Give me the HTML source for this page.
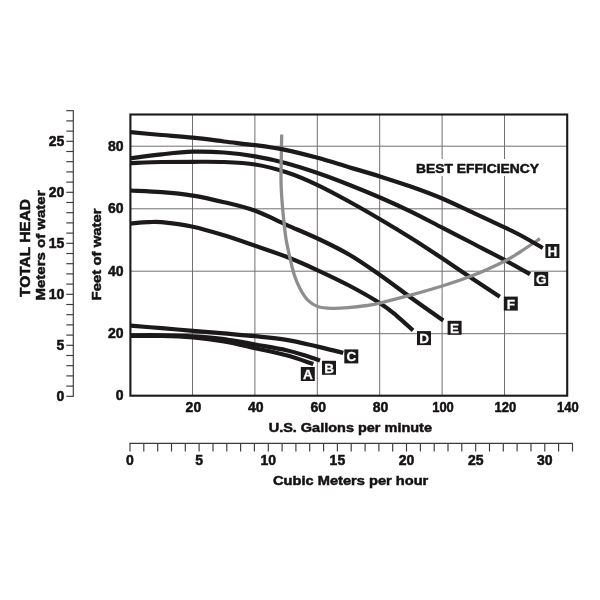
<!DOCTYPE html>
<html lang="en"><head><meta charset="utf-8"><title>Pump performance curves</title>
<style>
html,body{margin:0;padding:0;background:#fff;}
body{width:600px;height:600px;overflow:hidden;}
svg{display:block;transform:translateZ(0);will-change:transform;}
text{font-family:"Liberation Sans",sans-serif;font-weight:bold;fill:#151213;stroke:#151213;stroke-width:0.5px;}
text.w{fill:#fff;stroke:#fff;stroke-width:0.3px;}
</style></head><body>
<svg width="600" height="600" viewBox="0 0 600 600">
<rect width="600" height="600" fill="#fff"/>

<g stroke="#707070" stroke-width="1" fill="none">
<line x1="192.5" y1="114.5" x2="192.5" y2="395.8"/>
<line x1="254.9" y1="114.5" x2="254.9" y2="395.8"/>
<line x1="317.3" y1="114.5" x2="317.3" y2="395.8"/>
<line x1="379.7" y1="114.5" x2="379.7" y2="395.8"/>
<line x1="442.1" y1="114.5" x2="442.1" y2="395.8"/>
<line x1="504.5" y1="114.5" x2="504.5" y2="395.8"/>
<line x1="130.4" y1="333.7" x2="567.2" y2="333.7"/>
<line x1="130.4" y1="271.2" x2="567.2" y2="271.2"/>
<line x1="130.4" y1="208.8" x2="567.2" y2="208.8"/>
<line x1="130.4" y1="146.2" x2="567.2" y2="146.2"/>
</g>
<g fill="none" stroke="#1c191a" stroke-width="4.2" stroke-linecap="butt">
<path d="M130.5 158.3 C135.7 157.6 151.3 155.4 161.7 154.3 C172.1 153.2 182.5 152.0 192.9 151.7 C203.3 151.4 213.6 151.7 224.0 152.5 C234.4 153.3 244.8 154.6 255.2 156.4 C265.6 158.2 276.0 160.4 286.4 163.2 C296.8 166.0 307.2 169.4 317.6 173.0 C328.0 176.6 338.6 180.6 349.0 184.7 C359.4 188.8 369.6 193.0 380.0 197.5 C390.4 202.0 401.0 206.8 411.4 211.8 C421.8 216.8 431.8 222.3 442.2 227.7 C452.6 233.1 463.6 238.6 474.0 244.0 C484.4 249.4 495.2 254.9 504.5 259.9 C513.8 264.9 525.8 271.8 530.0 274.2"/>
<path d="M130.5 163.2 C135.7 163.0 151.3 162.2 161.7 162.0 C172.1 161.8 182.5 161.8 192.9 161.8 C203.3 161.8 213.6 161.6 224.0 162.0 C234.4 162.4 244.8 162.8 255.2 164.5 C265.6 166.2 276.0 168.9 286.4 172.3 C296.8 175.7 307.2 180.2 317.6 185.1 C328.0 190.0 338.6 195.8 349.0 201.5 C359.4 207.2 369.6 213.1 380.0 219.2 C390.4 225.3 401.0 231.7 411.4 238.2 C421.8 244.7 431.8 251.4 442.2 258.3 C452.6 265.2 464.4 273.3 474.0 279.7 C483.6 286.1 495.5 293.9 499.8 296.8"/>
<path d="M130.5 190.5 C135.7 190.8 151.3 191.2 161.7 192.1 C172.1 192.9 182.5 193.9 192.9 195.6 C203.3 197.3 213.6 199.7 224.0 202.2 C234.4 204.7 244.8 207.0 255.2 210.8 C265.6 214.6 276.0 220.2 286.4 224.8 C296.8 229.4 307.2 233.6 317.6 238.5 C328.0 243.4 338.6 248.4 349.0 254.5 C359.4 260.6 369.6 267.8 380.0 275.0 C390.4 282.2 400.8 290.4 411.4 298.0 C421.9 305.6 438.0 316.8 443.3 320.5"/>
<path d="M130.5 223.6 C133.4 223.4 142.8 222.4 148.0 222.2 C153.2 222.0 154.2 221.4 161.7 222.2 C169.2 222.9 182.5 224.5 192.9 226.7 C203.3 228.9 213.6 232.1 224.0 235.3 C234.4 238.5 244.8 242.2 255.2 245.8 C265.6 249.4 276.0 252.7 286.4 256.8 C296.8 260.9 307.3 265.5 317.7 270.3 C328.1 275.1 338.6 280.0 349.0 285.5 C359.4 291.0 372.1 298.1 380.0 303.2 C387.9 308.2 391.2 311.3 396.7 315.8 C402.2 320.3 410.3 328.0 413.0 330.4"/>
<path d="M130.5 325.7 C135.7 326.1 151.3 327.3 161.7 328.2 C172.1 329.1 182.6 329.9 193.0 330.8 C203.4 331.7 213.6 332.5 224.0 333.4 C234.4 334.3 244.8 335.1 255.2 336.2 C265.6 337.3 276.0 338.2 286.4 339.9 C296.8 341.6 308.2 344.5 317.7 346.6 C327.2 348.8 339.0 351.8 343.3 352.8"/>
<path d="M130.5 335.3 C135.7 335.3 151.3 335.1 161.7 335.3 C172.1 335.5 182.6 335.7 193.0 336.3 C203.4 336.9 213.6 337.6 224.0 339.0 C234.4 340.4 244.8 342.6 255.2 344.5 C265.6 346.4 277.9 348.4 286.4 350.3 C294.9 352.2 300.4 354.1 306.0 355.8 C311.6 357.5 317.7 359.8 320.0 360.6"/>
<path d="M130.5 336.0 C135.7 336.0 151.3 335.8 161.7 336.0 C172.1 336.2 182.6 336.6 193.0 337.5 C203.4 338.4 213.6 339.7 224.0 341.5 C234.4 343.3 244.8 345.9 255.2 348.2 C265.6 350.5 276.7 352.7 286.4 355.3 C296.1 357.9 308.8 362.6 313.3 364.0"/>
</g>
<path d="M281.7 134.5 C281.6 138.2 281.4 149.1 281.3 156.7 C281.2 164.3 280.9 172.2 281.0 180.0 C281.1 187.8 281.6 195.5 282.2 203.3 C282.8 211.1 283.8 220.6 284.5 226.7 C285.2 232.8 285.3 234.7 286.2 240.0 C287.1 245.3 288.8 252.9 290.1 258.7 C291.5 264.5 292.6 269.9 294.3 275.0 C296.0 280.1 297.9 284.7 300.2 289.0 C302.5 293.3 305.4 297.8 308.3 300.7 C311.2 303.6 313.8 305.2 317.7 306.5 C321.6 307.8 326.6 308.2 331.7 308.4 C336.8 308.6 342.2 308.2 348.0 307.7 C353.8 307.2 361.2 306.3 366.7 305.5 C372.1 304.7 373.2 304.6 380.7 302.8 C388.1 301.0 401.1 297.7 411.4 294.9 C421.6 292.1 431.8 289.3 442.2 286.0 C452.6 282.7 463.6 279.1 474.0 275.0 C484.4 270.9 496.8 265.0 504.5 261.2 C512.2 257.4 514.1 255.8 520.0 252.0 C525.9 248.2 536.7 240.9 540.0 238.7" fill="none" stroke="#8e8e8e" stroke-width="3.3" stroke-linecap="butt"/>
<path d="M130.5 132.2 C135.7 132.7 151.3 134.1 161.7 135.0 C172.1 135.9 182.5 136.6 192.9 137.7 C203.3 138.8 213.6 140.2 224.0 141.5 C234.4 142.8 244.8 143.8 255.2 145.2 C265.6 146.6 276.0 148.0 286.4 150.1 C296.8 152.2 307.2 155.0 317.6 157.8 C328.0 160.7 338.6 164.1 349.0 167.2 C359.4 170.3 369.6 173.2 380.0 176.5 C390.4 179.8 401.0 183.1 411.4 186.8 C421.8 190.5 431.8 194.1 442.2 198.5 C452.6 202.9 463.6 208.4 474.0 213.2 C484.4 218.0 496.8 223.7 504.5 227.3 C512.2 230.9 513.6 231.6 520.0 235.0 C526.4 238.4 539.0 245.8 542.8 248.0" fill="none" stroke="#1c191a" stroke-width="4.2" stroke-linecap="butt"/>
<rect x="130.4" y="114.5" width="436.8" height="281.2" fill="none" stroke="#1c191a" stroke-width="2.1"/>
<rect x="300.8" y="367.0" width="14" height="14" fill="#1c191a"/>
<text x="307.8" y="378.9" text-anchor="middle" font-size="13.5" class="w">A</text>
<rect x="322.0" y="360.8" width="14" height="14" fill="#1c191a"/>
<text x="329.0" y="372.7" text-anchor="middle" font-size="13.5" class="w">B</text>
<rect x="344.3" y="349.4" width="14" height="14" fill="#1c191a"/>
<text x="351.3" y="361.3" text-anchor="middle" font-size="13.5" class="w">C</text>
<rect x="417.0" y="331.1" width="14" height="14" fill="#1c191a"/>
<text x="424.0" y="343.0" text-anchor="middle" font-size="13.5" class="w">D</text>
<rect x="447.6" y="320.8" width="14" height="14" fill="#1c191a"/>
<text x="454.6" y="332.7" text-anchor="middle" font-size="13.5" class="w">E</text>
<rect x="503.8" y="296.6" width="14" height="14" fill="#1c191a"/>
<text x="510.8" y="308.5" text-anchor="middle" font-size="13.5" class="w">F</text>
<rect x="534.2" y="272.0" width="14" height="14" fill="#1c191a"/>
<text x="541.2" y="283.9" text-anchor="middle" font-size="13.5" class="w">G</text>
<rect x="545.4" y="244.0" width="14" height="14" fill="#1c191a"/>
<text x="552.4" y="255.9" text-anchor="middle" font-size="13.5" class="w">H</text>
<text x="123.5" y="400.0" text-anchor="end" font-size="14">0</text>
<text x="123.5" y="338.3" text-anchor="end" font-size="14">20</text>
<text x="123.5" y="275.8" text-anchor="end" font-size="14">40</text>
<text x="123.5" y="213.4" text-anchor="end" font-size="14">60</text>
<text x="123.5" y="150.8" text-anchor="end" font-size="14">80</text>
<text x="193.4" y="412.3" text-anchor="middle" font-size="14">20</text>
<text x="255.8" y="412.3" text-anchor="middle" font-size="14">40</text>
<text x="318.2" y="412.3" text-anchor="middle" font-size="14">60</text>
<text x="380.6" y="412.3" text-anchor="middle" font-size="14">80</text>
<text x="443.0" y="412.3" text-anchor="middle" font-size="14" textLength="21.6" lengthAdjust="spacingAndGlyphs">100</text>
<text x="505.4" y="412.3" text-anchor="middle" font-size="14" textLength="21.6" lengthAdjust="spacingAndGlyphs">120</text>
<text x="567.8" y="412.3" text-anchor="middle" font-size="14" textLength="21.6" lengthAdjust="spacingAndGlyphs">140</text>
<text x="268.7" y="431.7" font-size="13" textLength="163.3" lengthAdjust="spacingAndGlyphs">U.S. Gallons per minute</text>
<text x="273" y="484.7" font-size="13" textLength="155.3" lengthAdjust="spacingAndGlyphs">Cubic Meters per hour</text>
<rect x="413.5" y="159" width="128" height="17" fill="#fff"/>
<text x="416" y="173" font-size="13" textLength="123" lengthAdjust="spacingAndGlyphs">BEST EFFICIENCY</text>
<g stroke="#3a3a3a" stroke-width="1.15" fill="none">
<line x1="129.5" y1="443.3" x2="573.0" y2="443.3"/>
<line x1="130.0" y1="443.3" x2="130.0" y2="451.5"/>
<line x1="143.8" y1="443.3" x2="143.8" y2="451.5"/>
<line x1="157.7" y1="443.3" x2="157.7" y2="451.5"/>
<line x1="171.5" y1="443.3" x2="171.5" y2="451.5"/>
<line x1="185.3" y1="443.3" x2="185.3" y2="451.5"/>
<line x1="199.1" y1="443.3" x2="199.1" y2="451.5"/>
<line x1="213.0" y1="443.3" x2="213.0" y2="451.5"/>
<line x1="226.8" y1="443.3" x2="226.8" y2="451.5"/>
<line x1="240.6" y1="443.3" x2="240.6" y2="451.5"/>
<line x1="254.4" y1="443.3" x2="254.4" y2="451.5"/>
<line x1="268.3" y1="443.3" x2="268.3" y2="451.5"/>
<line x1="282.1" y1="443.3" x2="282.1" y2="451.5"/>
<line x1="295.9" y1="443.3" x2="295.9" y2="451.5"/>
<line x1="309.7" y1="443.3" x2="309.7" y2="451.5"/>
<line x1="323.6" y1="443.3" x2="323.6" y2="451.5"/>
<line x1="337.4" y1="443.3" x2="337.4" y2="451.5"/>
<line x1="351.2" y1="443.3" x2="351.2" y2="451.5"/>
<line x1="365.1" y1="443.3" x2="365.1" y2="451.5"/>
<line x1="378.9" y1="443.3" x2="378.9" y2="451.5"/>
<line x1="392.7" y1="443.3" x2="392.7" y2="451.5"/>
<line x1="406.5" y1="443.3" x2="406.5" y2="451.5"/>
<line x1="420.4" y1="443.3" x2="420.4" y2="451.5"/>
<line x1="434.2" y1="443.3" x2="434.2" y2="451.5"/>
<line x1="448.0" y1="443.3" x2="448.0" y2="451.5"/>
<line x1="461.8" y1="443.3" x2="461.8" y2="451.5"/>
<line x1="475.7" y1="443.3" x2="475.7" y2="451.5"/>
<line x1="489.5" y1="443.3" x2="489.5" y2="451.5"/>
<line x1="503.3" y1="443.3" x2="503.3" y2="451.5"/>
<line x1="517.1" y1="443.3" x2="517.1" y2="451.5"/>
<line x1="531.0" y1="443.3" x2="531.0" y2="451.5"/>
<line x1="544.8" y1="443.3" x2="544.8" y2="451.5"/>
<line x1="558.6" y1="443.3" x2="558.6" y2="451.5"/>
<line x1="572.5" y1="443.3" x2="572.5" y2="451.5"/>
</g>
<text x="130.0" y="465" text-anchor="middle" font-size="14">0</text>
<text x="199.1" y="465" text-anchor="middle" font-size="14">5</text>
<text x="268.3" y="465" text-anchor="middle" font-size="14">10</text>
<text x="337.4" y="465" text-anchor="middle" font-size="14">15</text>
<text x="406.5" y="465" text-anchor="middle" font-size="14">20</text>
<text x="475.7" y="465" text-anchor="middle" font-size="14">25</text>
<text x="544.8" y="465" text-anchor="middle" font-size="14">30</text>
<g stroke="#3a3a3a" stroke-width="1.15" fill="none">
<line x1="73.3" y1="396.8" x2="73.3" y2="110.2"/>
<line x1="66.3" y1="396.3" x2="73.3" y2="396.3"/>
<line x1="66.3" y1="386.1" x2="73.3" y2="386.1"/>
<line x1="66.3" y1="375.9" x2="73.3" y2="375.9"/>
<line x1="66.3" y1="365.7" x2="73.3" y2="365.7"/>
<line x1="66.3" y1="355.5" x2="73.3" y2="355.5"/>
<line x1="66.3" y1="345.3" x2="73.3" y2="345.3"/>
<line x1="66.3" y1="335.1" x2="73.3" y2="335.1"/>
<line x1="66.3" y1="324.9" x2="73.3" y2="324.9"/>
<line x1="66.3" y1="314.7" x2="73.3" y2="314.7"/>
<line x1="66.3" y1="304.5" x2="73.3" y2="304.5"/>
<line x1="66.3" y1="294.3" x2="73.3" y2="294.3"/>
<line x1="66.3" y1="284.1" x2="73.3" y2="284.1"/>
<line x1="66.3" y1="273.9" x2="73.3" y2="273.9"/>
<line x1="66.3" y1="263.7" x2="73.3" y2="263.7"/>
<line x1="66.3" y1="253.5" x2="73.3" y2="253.5"/>
<line x1="66.3" y1="243.3" x2="73.3" y2="243.3"/>
<line x1="66.3" y1="233.1" x2="73.3" y2="233.1"/>
<line x1="66.3" y1="222.9" x2="73.3" y2="222.9"/>
<line x1="66.3" y1="212.7" x2="73.3" y2="212.7"/>
<line x1="66.3" y1="202.5" x2="73.3" y2="202.5"/>
<line x1="66.3" y1="192.3" x2="73.3" y2="192.3"/>
<line x1="66.3" y1="182.1" x2="73.3" y2="182.1"/>
<line x1="66.3" y1="171.9" x2="73.3" y2="171.9"/>
<line x1="66.3" y1="161.7" x2="73.3" y2="161.7"/>
<line x1="66.3" y1="151.5" x2="73.3" y2="151.5"/>
<line x1="66.3" y1="141.3" x2="73.3" y2="141.3"/>
<line x1="66.3" y1="131.1" x2="73.3" y2="131.1"/>
<line x1="66.3" y1="120.9" x2="73.3" y2="120.9"/>
<line x1="66.3" y1="110.7" x2="73.3" y2="110.7"/>
</g>
<text x="64.3" y="401.3" text-anchor="end" font-size="14">0</text>
<text x="64.3" y="350.3" text-anchor="end" font-size="14">5</text>
<text x="64.3" y="299.3" text-anchor="end" font-size="14">10</text>
<text x="64.3" y="248.3" text-anchor="end" font-size="14">15</text>
<text x="64.3" y="197.3" text-anchor="end" font-size="14">20</text>
<text x="64.3" y="146.3" text-anchor="end" font-size="14">25</text>
<text transform="translate(29.5,297) rotate(-90)" font-size="14" textLength="98" lengthAdjust="spacingAndGlyphs">TOTAL HEAD</text>
<text transform="translate(45,300.5) rotate(-90)" font-size="13.5" textLength="110" lengthAdjust="spacingAndGlyphs">Meters of water</text>
<text transform="translate(100.8,300.4) rotate(-90)" font-size="13.5" textLength="92" lengthAdjust="spacingAndGlyphs">Feet of water</text>
</svg></body></html>
